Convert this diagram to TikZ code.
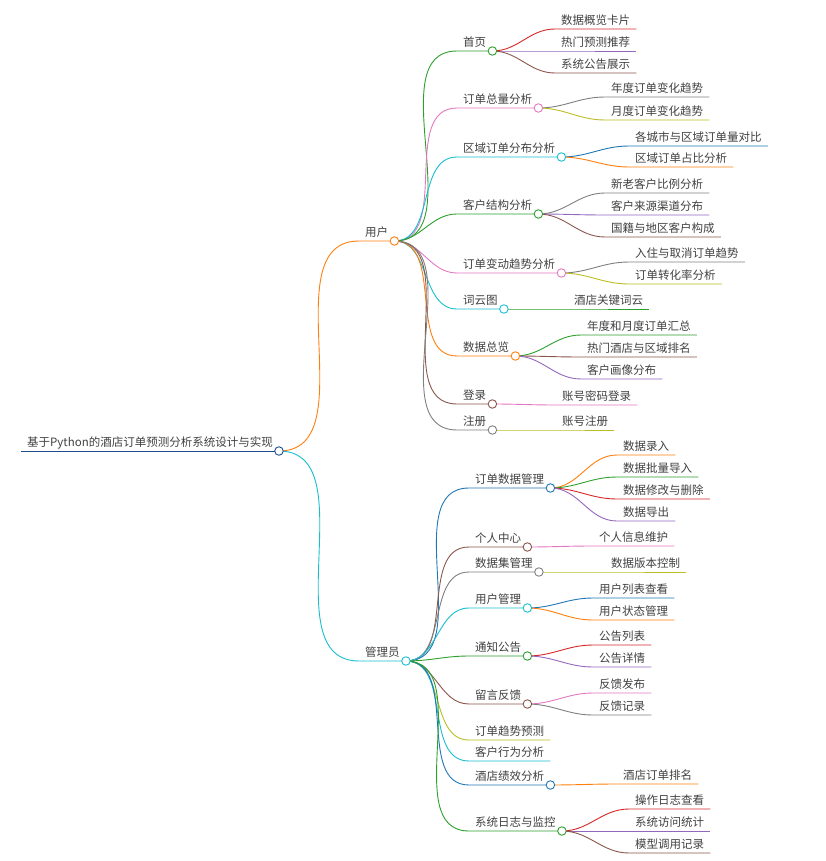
\documentclass[tikz,border=0pt]{standalone}
\usepackage{fontspec}
\setmainfont{Noto Sans CJK SC}
\usetikzlibrary{positioning}
\definecolor{cred}{HTML}{D62728}
\definecolor{cpurple}{HTML}{9467BD}
\definecolor{cbrown}{HTML}{8C564B}
\definecolor{cgray}{HTML}{7F7F7F}
\definecolor{colive}{HTML}{BCBD22}
\definecolor{cblue}{HTML}{1F77B4}
\definecolor{corange}{HTML}{FF7F0E}
\definecolor{cgreen}{HTML}{2CA02C}
\definecolor{cpink}{HTML}{E377C2}
\definecolor{ccyan}{HTML}{17BECF}
\definecolor{croot}{HTML}{1F4E8C}
\tikzset{
    topic/.style={anchor=south west, inner xsep=6pt, inner ysep=2.5pt, text height=9pt, text depth=1.5pt,
        font=\fontsize{11.5}{13}\selectfont, text=black!75},
    edge/.style={line width=0.9pt},
    dot/.style={circle, line width=0.9pt, fill=white, minimum size=8.5pt, inner sep=0pt},
}
\begin{document}
\begin{tikzpicture}[x=1pt,y=-1pt]
\useasboundingbox (0,0) rectangle (825,861);
% root and first level
\node[topic] (root) at (21,451) {基于Python的酒店订单预测分析系统设计与实现};
\node[topic] (yh) at (359,241) {用户};
\node[topic] (gly) at (359,661) {管理员};
% user branch
\node[topic] (sy) at (457,51) {首页};
\node[topic] (sy1) at (555,29) {数据概览卡片};
\node[topic] (sy2) at (555,51) {热门预测推荐};
\node[topic] (sy3) at (555,73) {系统公告展示};
\node[topic] (zl) at (457,108) {订单总量分析};
\node[topic] (zl1) at (605,97) {年度订单变化趋势};
\node[topic] (zl2) at (605,120) {月度订单变化趋势};
\node[topic] (qy) at (457,157) {区域订单分布分析};
\node[topic] (qy1) at (629,146) {各城市与区域订单量对比};
\node[topic] (qy2) at (629,167) {区域订单占比分析};
\node[topic] (kh) at (457,214) {客户结构分析};
\node[topic] (kh1) at (605,193) {新老客户比例分析};
\node[topic] (kh2) at (605,215) {客户来源渠道分布};
\node[topic] (kh3) at (605,237) {国籍与地区客户构成};
\node[topic] (bd) at (457,273) {订单变动趋势分析};
\node[topic] (bd1) at (629,262) {入住与取消订单趋势};
\node[topic] (bd2) at (629,284) {订单转化率分析};
\node[topic] (cy) at (457,309) {词云图};
\node[topic] (cy1) at (568,309) {酒店关键词云};
\node[topic] (zg) at (457,356) {数据总览};
\node[topic] (zg1) at (581,335) {年度和月度订单汇总};
\node[topic] (zg2) at (581,357) {热门酒店与区域排名};
\node[topic] (zg3) at (581,379) {客户画像分布};
\node[topic] (dl) at (457,404) {登录};
\node[topic] (dl1) at (556,405) {账号密码登录};
\node[topic] (zc) at (457,430) {注册};
\node[topic] (zc1) at (556,430) {账号注册};
% admin branch
\node[topic] (sj) at (469,488) {订单数据管理};
\node[topic] (sj1) at (617,455) {数据录入};
\node[topic] (sj2) at (617,477) {数据批量导入};
\node[topic] (sj3) at (617,499) {数据修改与删除};
\node[topic] (sj4) at (617,521) {数据导出};
\node[topic] (gr) at (469,547) {个人中心};
\node[topic] (gr1) at (593,546) {个人信息维护};
\node[topic] (sjj) at (469,572) {数据集管理};
\node[topic] (sjj1) at (605,572) {数据版本控制};
\node[topic] (yg) at (469,608) {用户管理};
\node[topic] (yg1) at (593,598) {用户列表查看};
\node[topic] (yg2) at (593,620) {用户状态管理};
\node[topic] (tz) at (469,656) {通知公告};
\node[topic] (tz1) at (593,645) {公告列表};
\node[topic] (tz2) at (593,667) {公告详情};
\node[topic] (ly) at (469,704) {留言反馈};
\node[topic] (ly1) at (593,693) {反馈发布};
\node[topic] (ly2) at (593,715) {反馈记录};
\node[topic] (yc) at (469,740) {订单趋势预测};
\node[topic] (xw) at (469,761) {客户行为分析};
\node[topic] (jx) at (469,785) {酒店绩效分析};
\node[topic] (jx1) at (617,784) {酒店订单排名};
\node[topic] (rz) at (469,831) {系统日志与监控};
\node[topic] (rz1) at (629,809) {操作日志查看};
\node[topic] (rz2) at (629,831) {系统访问统计};
\node[topic] (rz3) at (629,853) {模型调用记录};

% connectors
\draw[edge, croot] (root.south west) -- (root.south east);
\draw[edge, corange] (root.south east) to[out=0,in=180] (yh.south west) -- (yh.south east);
\draw[edge, ccyan] (root.south east) to[out=0,in=180] (gly.south west) -- (gly.south east);

\draw[edge, cgreen] (yh.south east) to[out=0,in=180] (sy.south west) -- (sy.south east);
\draw[edge, cred] (sy.south east) to[out=0,in=180] (sy1.south west) -- (sy1.south east);
\draw[edge, cpurple] (sy.south east) to[out=0,in=180] (sy2.south west) -- (sy2.south east);
\draw[edge, cbrown] (sy.south east) to[out=0,in=180] (sy3.south west) -- (sy3.south east);
\draw[edge, cpink] (yh.south east) to[out=0,in=180] (zl.south west) -- (zl.south east);
\draw[edge, cgray] (zl.south east) to[out=0,in=180] (zl1.south west) -- (zl1.south east);
\draw[edge, colive] (zl.south east) to[out=0,in=180] (zl2.south west) -- (zl2.south east);
\draw[edge, ccyan] (yh.south east) to[out=0,in=180] (qy.south west) -- (qy.south east);
\draw[edge, cblue] (qy.south east) to[out=0,in=180] (qy1.south west) -- (qy1.south east);
\draw[edge, corange] (qy.south east) to[out=0,in=180] (qy2.south west) -- (qy2.south east);
\draw[edge, cgreen] (yh.south east) to[out=0,in=180] (kh.south west) -- (kh.south east);
\draw[edge, cgray] (kh.south east) to[out=0,in=180] (kh1.south west) -- (kh1.south east);
\draw[edge, cpurple] (kh.south east) to[out=0,in=180] (kh2.south west) -- (kh2.south east);
\draw[edge, cbrown] (kh.south east) to[out=0,in=180] (kh3.south west) -- (kh3.south east);
\draw[edge, cpink] (yh.south east) to[out=0,in=180] (bd.south west) -- (bd.south east);
\draw[edge, cgray] (bd.south east) to[out=0,in=180] (bd1.south west) -- (bd1.south east);
\draw[edge, colive] (bd.south east) to[out=0,in=180] (bd2.south west) -- (bd2.south east);
\draw[edge, ccyan] (yh.south east) to[out=0,in=180] (cy.south west) -- (cy.south east);
\draw[edge, cgreen] (cy.south east) to[out=0,in=180] (cy1.south west) -- (cy1.south east);
\draw[edge, corange] (yh.south east) to[out=0,in=180] (zg.south west) -- (zg.south east);
\draw[edge, cgreen] (zg.south east) to[out=0,in=180] (zg1.south west) -- (zg1.south east);
\draw[edge, cbrown] (zg.south east) to[out=0,in=180] (zg2.south west) -- (zg2.south east);
\draw[edge, cpurple] (zg.south east) to[out=0,in=180] (zg3.south west) -- (zg3.south east);
\draw[edge, cbrown] (yh.south east) to[out=0,in=180] (dl.south west) -- (dl.south east);
\draw[edge, cpink] (dl.south east) to[out=0,in=180] (dl1.south west) -- (dl1.south east);
\draw[edge, cgray] (yh.south east) to[out=0,in=180] (zc.south west) -- (zc.south east);
\draw[edge, colive] (zc.south east) to[out=0,in=180] (zc1.south west) -- (zc1.south east);

\draw[edge, cblue] (gly.south east) to[out=0,in=180] (sj.south west) -- (sj.south east);
\draw[edge, corange] (sj.south east) to[out=0,in=180] (sj1.south west) -- (sj1.south east);
\draw[edge, cgreen] (sj.south east) to[out=0,in=180] (sj2.south west) -- (sj2.south east);
\draw[edge, cred] (sj.south east) to[out=0,in=180] (sj3.south west) -- (sj3.south east);
\draw[edge, cpurple] (sj.south east) to[out=0,in=180] (sj4.south west) -- (sj4.south east);
\draw[edge, cbrown] (gly.south east) to[out=0,in=180] (gr.south west) -- (gr.south east);
\draw[edge, cpink] (gr.south east) to[out=0,in=180] (gr1.south west) -- (gr1.south east);
\draw[edge, cgray] (gly.south east) to[out=0,in=180] (sjj.south west) -- (sjj.south east);
\draw[edge, colive] (sjj.south east) to[out=0,in=180] (sjj1.south west) -- (sjj1.south east);
\draw[edge, ccyan] (gly.south east) to[out=0,in=180] (yg.south west) -- (yg.south east);
\draw[edge, cblue] (yg.south east) to[out=0,in=180] (yg1.south west) -- (yg1.south east);
\draw[edge, corange] (yg.south east) to[out=0,in=180] (yg2.south west) -- (yg2.south east);
\draw[edge, cgreen] (gly.south east) to[out=0,in=180] (tz.south west) -- (tz.south east);
\draw[edge, cred] (tz.south east) to[out=0,in=180] (tz1.south west) -- (tz1.south east);
\draw[edge, cpurple] (tz.south east) to[out=0,in=180] (tz2.south west) -- (tz2.south east);
\draw[edge, cbrown] (gly.south east) to[out=0,in=180] (ly.south west) -- (ly.south east);
\draw[edge, cpink] (ly.south east) to[out=0,in=180] (ly1.south west) -- (ly1.south east);
\draw[edge, cgray] (ly.south east) to[out=0,in=180] (ly2.south west) -- (ly2.south east);
\draw[edge, colive] (gly.south east) to[out=0,in=180] (yc.south west) -- (yc.south east);
\draw[edge, ccyan] (gly.south east) to[out=0,in=180] (xw.south west) -- (xw.south east);
\draw[edge, cblue] (gly.south east) to[out=0,in=180] (jx.south west) -- (jx.south east);
\draw[edge, corange] (jx.south east) to[out=0,in=180] (jx1.south west) -- (jx1.south east);
\draw[edge, cgreen] (gly.south east) to[out=0,in=180] (rz.south west) -- (rz.south east);
\draw[edge, cred] (rz.south east) to[out=0,in=180] (rz1.south west) -- (rz1.south east);
\draw[edge, cpurple] (rz.south east) to[out=0,in=180] (rz2.south west) -- (rz2.south east);
\draw[edge, cbrown] (rz.south east) to[out=0,in=180] (rz3.south west) -- (rz3.south east);

% fold markers
\node[dot, draw=croot] at (root.south east) {};
\node[dot, draw=corange] at (yh.south east) {};
\node[dot, draw=ccyan] at (gly.south east) {};
\node[dot, draw=cgreen] at (sy.south east) {};
\node[dot, draw=cpink] at (zl.south east) {};
\node[dot, draw=ccyan] at (qy.south east) {};
\node[dot, draw=cgreen] at (kh.south east) {};
\node[dot, draw=cpink] at (bd.south east) {};
\node[dot, draw=ccyan] at (cy.south east) {};
\node[dot, draw=corange] at (zg.south east) {};
\node[dot, draw=cbrown] at (dl.south east) {};
\node[dot, draw=cgray] at (zc.south east) {};
\node[dot, draw=cblue] at (sj.south east) {};
\node[dot, draw=cbrown] at (gr.south east) {};
\node[dot, draw=cgray] at (sjj.south east) {};
\node[dot, draw=ccyan] at (yg.south east) {};
\node[dot, draw=cgreen] at (tz.south east) {};
\node[dot, draw=cbrown] at (ly.south east) {};
\node[dot, draw=cblue] at (jx.south east) {};
\node[dot, draw=cgreen] at (rz.south east) {};
\end{tikzpicture}
\end{document}
